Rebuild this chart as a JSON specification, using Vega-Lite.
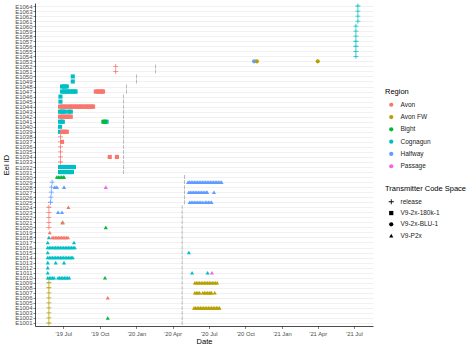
{
"$schema":"https://vega.github.io/schema/vega-lite/v6.json",
"width":338,"height":323,
"autosize":{"type":"none"},
"padding":{"left":35,"top":3,"right":101,"bottom":22},
"config":{"view":{"stroke":null},"font":"Liberation Sans"},
"datasets":{
"expiry":[
{"id":"E1001","date":"2020-04-25"},{"id":"E1002","date":"2020-04-25"},{"id":"E1003","date":"2020-04-25"},{"id":"E1004","date":"2020-04-25"},{"id":"E1005","date":"2020-04-25"},{"id":"E1006","date":"2020-04-25"},{"id":"E1007","date":"2020-04-25"},{"id":"E1008","date":"2020-04-25"},{"id":"E1009","date":"2020-04-25"},{"id":"E1010","date":"2020-04-25"},{"id":"E1011","date":"2020-04-25"},{"id":"E1012","date":"2020-04-25"},{"id":"E1013","date":"2020-04-25"},{"id":"E1014","date":"2020-04-25"},{"id":"E1015","date":"2020-04-25"},{"id":"E1016","date":"2020-04-25"},{"id":"E1017","date":"2020-04-25"},{"id":"E1018","date":"2020-04-25"},{"id":"E1019","date":"2020-04-25"},{"id":"E1020","date":"2020-04-25"},{"id":"E1021","date":"2020-04-25"},{"id":"E1022","date":"2020-04-25"},{"id":"E1023","date":"2020-04-25"},{"id":"E1024","date":"2020-04-25"},
{"id":"E1025","date":"2020-05-01"},{"id":"E1026","date":"2020-05-01"},{"id":"E1027","date":"2020-05-01"},{"id":"E1028","date":"2020-05-01"},{"id":"E1029","date":"2020-05-01"},{"id":"E1030","date":"2020-05-01"},
{"id":"E1031","date":"2019-11-30"},{"id":"E1032","date":"2019-11-30"},{"id":"E1033","date":"2019-11-30"},{"id":"E1034","date":"2019-11-30"},{"id":"E1035","date":"2019-11-30"},{"id":"E1036","date":"2019-11-30"},{"id":"E1037","date":"2019-11-30"},{"id":"E1038","date":"2019-11-30"},{"id":"E1039","date":"2019-11-30"},{"id":"E1040","date":"2019-11-30"},{"id":"E1041","date":"2019-11-30"},{"id":"E1042","date":"2019-11-30"},{"id":"E1043","date":"2019-11-30"},{"id":"E1044","date":"2019-11-30"},{"id":"E1045","date":"2019-11-30"},{"id":"E1046","date":"2019-11-30"},
{"id":"E1047","date":"2019-12-07"},{"id":"E1048","date":"2019-12-07"},
{"id":"E1049","date":"2020-01-01"},{"id":"E1050","date":"2020-01-01"},
{"id":"E1051","date":"2020-02-18"},{"id":"E1052","date":"2020-02-18"}
],
"pts":[
{"id":"E1001","date":"2019-05-26","region":"Avon FW","code":"release"},
{"id":"E1002","date":"2019-05-26","region":"Avon FW","code":"release"},
{"id":"E1003","date":"2019-05-26","region":"Avon FW","code":"release"},
{"id":"E1004","date":"2019-05-26","region":"Avon FW","code":"release"},
{"id":"E1005","date":"2019-05-26","region":"Avon FW","code":"release"},
{"id":"E1006","date":"2019-05-26","region":"Avon FW","code":"release"},
{"id":"E1007","date":"2019-05-26","region":"Avon FW","code":"release"},
{"id":"E1008","date":"2019-05-26","region":"Avon FW","code":"release"},
{"id":"E1009","date":"2019-05-26","region":"Avon FW","code":"release"},
{"id":"E1020","date":"2019-05-26","region":"Avon","code":"release"},
{"id":"E1021","date":"2019-05-26","region":"Avon","code":"release"},
{"id":"E1022","date":"2019-05-26","region":"Avon","code":"release"},
{"id":"E1023","date":"2019-05-26","region":"Avon","code":"release"},
{"id":"E1024","date":"2019-05-26","region":"Avon","code":"release"},
{"id":"E1025","date":"2019-05-30","region":"Halfway","code":"release"},
{"id":"E1026","date":"2019-05-31","region":"Halfway","code":"release"},
{"id":"E1027","date":"2019-06-01","region":"Halfway","code":"release"},
{"id":"E1028","date":"2019-06-02","region":"Halfway","code":"release"},
{"id":"E1029","date":"2019-06-03","region":"Halfway","code":"release"},
{"id":"E1033","date":"2019-06-24","region":"Avon","code":"release"},
{"id":"E1034","date":"2019-06-24","region":"Avon","code":"release"},
{"id":"E1035","date":"2019-06-24","region":"Avon","code":"release"},
{"id":"E1036","date":"2019-06-24","region":"Avon","code":"release"},
{"id":"E1037","date":"2019-06-24","region":"Avon","code":"release"},
{"id":"E1038","date":"2019-06-24","region":"Avon","code":"release"},
{"id":"E1051","date":"2019-11-10","region":"Avon","code":"release"},
{"id":"E1052","date":"2019-11-10","region":"Avon","code":"release"},
{"id":"E1054","date":"2021-07-06","region":"Cognagun","code":"release"},
{"id":"E1055","date":"2021-07-06","region":"Cognagun","code":"release"},
{"id":"E1056","date":"2021-07-06","region":"Cognagun","code":"release"},
{"id":"E1057","date":"2021-07-06","region":"Cognagun","code":"release"},
{"id":"E1058","date":"2021-07-06","region":"Cognagun","code":"release"},
{"id":"E1059","date":"2021-07-06","region":"Cognagun","code":"release"},
{"id":"E1060","date":"2021-07-06","region":"Cognagun","code":"release"},
{"id":"E1061","date":"2021-07-11","region":"Cognagun","code":"release"},
{"id":"E1062","date":"2021-07-11","region":"Cognagun","code":"release"},
{"id":"E1063","date":"2021-07-11","region":"Cognagun","code":"release"},
{"id":"E1064","date":"2021-07-11","region":"Cognagun","code":"release"},

{"id":"E1002","date":"2019-10-21","region":"Bight","code":"V9-P2x"},
{"id":"E1004","date":"2020-05-25","region":"Avon FW","code":"V9-P2x"},
{"id":"E1004","date":"2020-05-29","region":"Avon FW","code":"V9-P2x"},
{"id":"E1004","date":"2020-06-02","region":"Avon FW","code":"V9-P2x"},
{"id":"E1004","date":"2020-06-06","region":"Avon FW","code":"V9-P2x"},
{"id":"E1004","date":"2020-06-10","region":"Avon FW","code":"V9-P2x"},
{"id":"E1004","date":"2020-06-14","region":"Avon FW","code":"V9-P2x"},
{"id":"E1004","date":"2020-06-18","region":"Avon FW","code":"V9-P2x"},
{"id":"E1004","date":"2020-06-22","region":"Avon FW","code":"V9-P2x"},
{"id":"E1004","date":"2020-06-26","region":"Avon FW","code":"V9-P2x"},
{"id":"E1004","date":"2020-06-30","region":"Avon FW","code":"V9-P2x"},
{"id":"E1004","date":"2020-07-04","region":"Avon FW","code":"V9-P2x"},
{"id":"E1004","date":"2020-07-08","region":"Avon FW","code":"V9-P2x"},
{"id":"E1004","date":"2020-07-12","region":"Avon FW","code":"V9-P2x"},
{"id":"E1004","date":"2020-07-16","region":"Avon FW","code":"V9-P2x"},
{"id":"E1004","date":"2020-07-20","region":"Avon FW","code":"V9-P2x"},
{"id":"E1004","date":"2020-07-24","region":"Avon FW","code":"V9-P2x"},
{"id":"E1004","date":"2020-07-28","region":"Avon FW","code":"V9-P2x"},
{"id":"E1006","date":"2019-10-21","region":"Avon","code":"V9-P2x"},
{"id":"E1007","date":"2020-05-27","region":"Avon FW","code":"V9-P2x"},
{"id":"E1007","date":"2020-05-31","region":"Avon FW","code":"V9-P2x"},
{"id":"E1007","date":"2020-06-04","region":"Avon FW","code":"V9-P2x"},
{"id":"E1007","date":"2020-06-08","region":"Avon FW","code":"V9-P2x"},
{"id":"E1007","date":"2020-06-16","region":"Avon FW","code":"V9-P2x"},
{"id":"E1007","date":"2020-06-20","region":"Avon FW","code":"V9-P2x"},
{"id":"E1007","date":"2020-06-24","region":"Avon FW","code":"V9-P2x"},
{"id":"E1007","date":"2020-06-28","region":"Avon FW","code":"V9-P2x"},
{"id":"E1007","date":"2020-07-02","region":"Avon FW","code":"V9-P2x"},
{"id":"E1007","date":"2020-07-06","region":"Avon FW","code":"V9-P2x"},
{"id":"E1007","date":"2020-07-08","region":"Avon FW","code":"V9-P2x"},
{"id":"E1007","date":"2020-07-16","region":"Avon FW","code":"V9-P2x"},
{"id":"E1009","date":"2020-05-27","region":"Avon FW","code":"V9-P2x"},
{"id":"E1009","date":"2020-05-31","region":"Avon FW","code":"V9-P2x"},
{"id":"E1009","date":"2020-06-04","region":"Avon FW","code":"V9-P2x"},
{"id":"E1009","date":"2020-06-08","region":"Avon FW","code":"V9-P2x"},
{"id":"E1009","date":"2020-06-12","region":"Avon FW","code":"V9-P2x"},
{"id":"E1009","date":"2020-06-16","region":"Avon FW","code":"V9-P2x"},
{"id":"E1009","date":"2020-06-20","region":"Avon FW","code":"V9-P2x"},
{"id":"E1009","date":"2020-06-24","region":"Avon FW","code":"V9-P2x"},
{"id":"E1009","date":"2020-06-28","region":"Avon FW","code":"V9-P2x"},
{"id":"E1009","date":"2020-07-02","region":"Avon FW","code":"V9-P2x"},
{"id":"E1009","date":"2020-07-06","region":"Avon FW","code":"V9-P2x"},
{"id":"E1009","date":"2020-07-10","region":"Avon FW","code":"V9-P2x"},
{"id":"E1009","date":"2020-07-14","region":"Avon FW","code":"V9-P2x"},
{"id":"E1009","date":"2020-07-18","region":"Avon FW","code":"V9-P2x"},
{"id":"E1009","date":"2020-07-22","region":"Avon FW","code":"V9-P2x"},
{"id":"E1010","date":"2019-05-23","region":"Cognagun","code":"V9-P2x"},
{"id":"E1010","date":"2019-05-27","region":"Cognagun","code":"V9-P2x"},
{"id":"E1010","date":"2019-05-31","region":"Cognagun","code":"V9-P2x"},
{"id":"E1010","date":"2019-06-04","region":"Cognagun","code":"V9-P2x"},
{"id":"E1010","date":"2019-06-08","region":"Cognagun","code":"V9-P2x"},
{"id":"E1010","date":"2019-06-18","region":"Cognagun","code":"V9-P2x"},
{"id":"E1010","date":"2019-06-22","region":"Cognagun","code":"V9-P2x"},
{"id":"E1010","date":"2019-06-26","region":"Cognagun","code":"V9-P2x"},
{"id":"E1010","date":"2019-06-30","region":"Cognagun","code":"V9-P2x"},
{"id":"E1010","date":"2019-07-04","region":"Cognagun","code":"V9-P2x"},
{"id":"E1010","date":"2019-07-08","region":"Cognagun","code":"V9-P2x"},
{"id":"E1010","date":"2019-07-12","region":"Cognagun","code":"V9-P2x"},
{"id":"E1010","date":"2019-07-16","region":"Cognagun","code":"V9-P2x"},
{"id":"E1010","date":"2019-10-14","region":"Bight","code":"V9-P2x"},
{"id":"E1011","date":"2019-05-23","region":"Cognagun","code":"V9-P2x"},
{"id":"E1011","date":"2020-05-20","region":"Cognagun","code":"V9-P2x"},
{"id":"E1011","date":"2020-06-28","region":"Cognagun","code":"V9-P2x"},
{"id":"E1011","date":"2020-07-09","region":"Passage","code":"V9-P2x"},
{"id":"E1012","date":"2019-05-23","region":"Cognagun","code":"V9-P2x"},
{"id":"E1013","date":"2019-05-23","region":"Cognagun","code":"V9-P2x"},
{"id":"E1013","date":"2019-06-12","region":"Cognagun","code":"V9-P2x"},
{"id":"E1013","date":"2019-07-03","region":"Cognagun","code":"V9-P2x"},
{"id":"E1014","date":"2019-05-23","region":"Cognagun","code":"V9-P2x"},
{"id":"E1014","date":"2019-05-27","region":"Cognagun","code":"V9-P2x"},
{"id":"E1014","date":"2019-05-31","region":"Cognagun","code":"V9-P2x"},
{"id":"E1014","date":"2019-06-04","region":"Cognagun","code":"V9-P2x"},
{"id":"E1014","date":"2019-06-08","region":"Cognagun","code":"V9-P2x"},
{"id":"E1014","date":"2019-06-12","region":"Cognagun","code":"V9-P2x"},
{"id":"E1014","date":"2019-06-16","region":"Cognagun","code":"V9-P2x"},
{"id":"E1014","date":"2019-06-20","region":"Cognagun","code":"V9-P2x"},
{"id":"E1014","date":"2019-06-24","region":"Cognagun","code":"V9-P2x"},
{"id":"E1014","date":"2019-06-28","region":"Cognagun","code":"V9-P2x"},
{"id":"E1014","date":"2019-07-02","region":"Cognagun","code":"V9-P2x"},
{"id":"E1014","date":"2019-07-06","region":"Cognagun","code":"V9-P2x"},
{"id":"E1014","date":"2019-07-10","region":"Cognagun","code":"V9-P2x"},
{"id":"E1014","date":"2019-07-14","region":"Cognagun","code":"V9-P2x"},
{"id":"E1014","date":"2019-07-18","region":"Cognagun","code":"V9-P2x"},
{"id":"E1014","date":"2019-07-22","region":"Cognagun","code":"V9-P2x"},
{"id":"E1014","date":"2019-07-25","region":"Cognagun","code":"V9-P2x"},
{"id":"E1015","date":"2019-05-23","region":"Cognagun","code":"V9-P2x"},
{"id":"E1015","date":"2020-05-12","region":"Cognagun","code":"V9-P2x"},
{"id":"E1016","date":"2019-05-23","region":"Cognagun","code":"V9-P2x"},
{"id":"E1016","date":"2019-05-27","region":"Cognagun","code":"V9-P2x"},
{"id":"E1016","date":"2019-05-31","region":"Cognagun","code":"V9-P2x"},
{"id":"E1016","date":"2019-06-04","region":"Cognagun","code":"V9-P2x"},
{"id":"E1016","date":"2019-06-08","region":"Cognagun","code":"V9-P2x"},
{"id":"E1016","date":"2019-06-12","region":"Cognagun","code":"V9-P2x"},
{"id":"E1016","date":"2019-06-16","region":"Cognagun","code":"V9-P2x"},
{"id":"E1016","date":"2019-06-20","region":"Cognagun","code":"V9-P2x"},
{"id":"E1016","date":"2019-06-24","region":"Cognagun","code":"V9-P2x"},
{"id":"E1016","date":"2019-06-28","region":"Cognagun","code":"V9-P2x"},
{"id":"E1016","date":"2019-07-02","region":"Cognagun","code":"V9-P2x"},
{"id":"E1016","date":"2019-07-06","region":"Cognagun","code":"V9-P2x"},
{"id":"E1016","date":"2019-07-10","region":"Cognagun","code":"V9-P2x"},
{"id":"E1016","date":"2019-07-14","region":"Cognagun","code":"V9-P2x"},
{"id":"E1016","date":"2019-07-18","region":"Cognagun","code":"V9-P2x"},
{"id":"E1016","date":"2019-07-22","region":"Cognagun","code":"V9-P2x"},
{"id":"E1016","date":"2019-07-26","region":"Cognagun","code":"V9-P2x"},
{"id":"E1016","date":"2019-07-30","region":"Cognagun","code":"V9-P2x"},
{"id":"E1017","date":"2019-05-23","region":"Cognagun","code":"V9-P2x"},
{"id":"E1017","date":"2019-07-28","region":"Cognagun","code":"V9-P2x"},
{"id":"E1018","date":"2019-05-26","region":"Cognagun","code":"V9-P2x"},
{"id":"E1018","date":"2019-06-03","region":"Avon","code":"V9-P2x"},
{"id":"E1018","date":"2019-06-07","region":"Avon","code":"V9-P2x"},
{"id":"E1018","date":"2019-06-11","region":"Avon","code":"V9-P2x"},
{"id":"E1018","date":"2019-06-15","region":"Avon","code":"V9-P2x"},
{"id":"E1018","date":"2019-06-19","region":"Avon","code":"V9-P2x"},
{"id":"E1018","date":"2019-06-23","region":"Avon","code":"V9-P2x"},
{"id":"E1018","date":"2019-06-27","region":"Avon","code":"V9-P2x"},
{"id":"E1018","date":"2019-07-01","region":"Avon","code":"V9-P2x"},
{"id":"E1018","date":"2019-07-05","region":"Avon","code":"V9-P2x"},
{"id":"E1018","date":"2019-07-09","region":"Avon","code":"V9-P2x"},
{"id":"E1018","date":"2019-07-13","region":"Avon","code":"V9-P2x"},
{"id":"E1019","date":"2019-05-28","region":"Avon","code":"V9-P2x"},
{"id":"E1020","date":"2019-10-16","region":"Bight","code":"V9-P2x"},
{"id":"E1021","date":"2019-06-29","region":"Bight","code":"V9-P2x"},
{"id":"E1021","date":"2019-06-30","region":"Avon","code":"V9-P2x"},
{"id":"E1023","date":"2019-06-18","region":"Halfway","code":"V9-P2x"},
{"id":"E1023","date":"2019-06-28","region":"Halfway","code":"V9-P2x"},
{"id":"E1024","date":"2019-07-14","region":"Avon","code":"V9-P2x"},
{"id":"E1025","date":"2020-05-14","region":"Halfway","code":"V9-P2x"},
{"id":"E1025","date":"2020-05-18","region":"Halfway","code":"V9-P2x"},
{"id":"E1025","date":"2020-05-22","region":"Halfway","code":"V9-P2x"},
{"id":"E1025","date":"2020-05-26","region":"Halfway","code":"V9-P2x"},
{"id":"E1025","date":"2020-05-30","region":"Halfway","code":"V9-P2x"},
{"id":"E1025","date":"2020-06-03","region":"Halfway","code":"V9-P2x"},
{"id":"E1025","date":"2020-06-07","region":"Halfway","code":"V9-P2x"},
{"id":"E1025","date":"2020-06-11","region":"Halfway","code":"V9-P2x"},
{"id":"E1025","date":"2020-06-16","region":"Halfway","code":"V9-P2x"},
{"id":"E1025","date":"2020-06-22","region":"Halfway","code":"V9-P2x"},
{"id":"E1025","date":"2020-06-26","region":"Halfway","code":"V9-P2x"},
{"id":"E1025","date":"2020-06-30","region":"Halfway","code":"V9-P2x"},
{"id":"E1025","date":"2020-07-04","region":"Halfway","code":"V9-P2x"},
{"id":"E1025","date":"2020-07-08","region":"Halfway","code":"V9-P2x"},
{"id":"E1027","date":"2020-05-12","region":"Halfway","code":"V9-P2x"},
{"id":"E1027","date":"2020-05-16","region":"Halfway","code":"V9-P2x"},
{"id":"E1027","date":"2020-05-20","region":"Halfway","code":"V9-P2x"},
{"id":"E1027","date":"2020-05-24","region":"Halfway","code":"V9-P2x"},
{"id":"E1027","date":"2020-05-28","region":"Halfway","code":"V9-P2x"},
{"id":"E1027","date":"2020-06-01","region":"Halfway","code":"V9-P2x"},
{"id":"E1027","date":"2020-06-05","region":"Halfway","code":"V9-P2x"},
{"id":"E1027","date":"2020-06-09","region":"Halfway","code":"V9-P2x"},
{"id":"E1027","date":"2020-06-13","region":"Halfway","code":"V9-P2x"},
{"id":"E1027","date":"2020-06-17","region":"Halfway","code":"V9-P2x"},
{"id":"E1027","date":"2020-06-21","region":"Halfway","code":"V9-P2x"},
{"id":"E1027","date":"2020-06-25","region":"Halfway","code":"V9-P2x"},
{"id":"E1027","date":"2020-06-27","region":"Halfway","code":"V9-P2x"},
{"id":"E1027","date":"2020-07-14","region":"Halfway","code":"V9-P2x"},
{"id":"E1028","date":"2019-06-10","region":"Halfway","code":"V9-P2x"},
{"id":"E1028","date":"2019-06-15","region":"Halfway","code":"V9-P2x"},
{"id":"E1028","date":"2019-07-03","region":"Halfway","code":"V9-P2x"},
{"id":"E1028","date":"2019-10-16","region":"Passage","code":"V9-P2x"},
{"id":"E1029","date":"2020-05-10","region":"Halfway","code":"V9-P2x"},
{"id":"E1029","date":"2020-05-14","region":"Halfway","code":"V9-P2x"},
{"id":"E1029","date":"2020-05-18","region":"Halfway","code":"V9-P2x"},
{"id":"E1029","date":"2020-05-22","region":"Halfway","code":"V9-P2x"},
{"id":"E1029","date":"2020-05-26","region":"Halfway","code":"V9-P2x"},
{"id":"E1029","date":"2020-05-30","region":"Halfway","code":"V9-P2x"},
{"id":"E1029","date":"2020-06-03","region":"Halfway","code":"V9-P2x"},
{"id":"E1029","date":"2020-06-07","region":"Halfway","code":"V9-P2x"},
{"id":"E1029","date":"2020-06-11","region":"Halfway","code":"V9-P2x"},
{"id":"E1029","date":"2020-06-15","region":"Halfway","code":"V9-P2x"},
{"id":"E1029","date":"2020-06-19","region":"Halfway","code":"V9-P2x"},
{"id":"E1029","date":"2020-06-23","region":"Halfway","code":"V9-P2x"},
{"id":"E1029","date":"2020-06-27","region":"Halfway","code":"V9-P2x"},
{"id":"E1029","date":"2020-07-01","region":"Halfway","code":"V9-P2x"},
{"id":"E1029","date":"2020-07-05","region":"Halfway","code":"V9-P2x"},
{"id":"E1029","date":"2020-07-09","region":"Halfway","code":"V9-P2x"},
{"id":"E1029","date":"2020-07-13","region":"Halfway","code":"V9-P2x"},
{"id":"E1029","date":"2020-07-17","region":"Halfway","code":"V9-P2x"},
{"id":"E1029","date":"2020-07-21","region":"Halfway","code":"V9-P2x"},
{"id":"E1029","date":"2020-07-25","region":"Halfway","code":"V9-P2x"},
{"id":"E1029","date":"2020-07-29","region":"Halfway","code":"V9-P2x"},
{"id":"E1029","date":"2020-08-02","region":"Halfway","code":"V9-P2x"},
{"id":"E1030","date":"2019-06-15","region":"Bight","code":"V9-P2x"},
{"id":"E1030","date":"2019-06-19","region":"Bight","code":"V9-P2x"},
{"id":"E1030","date":"2019-06-23","region":"Bight","code":"V9-P2x"},
{"id":"E1030","date":"2019-06-27","region":"Bight","code":"V9-P2x"},
{"id":"E1030","date":"2019-07-01","region":"Bight","code":"V9-P2x"},
{"id":"E1030","date":"2019-07-03","region":"Bight","code":"V9-P2x"},

{"id":"E1031","date":"2019-06-23","region":"Cognagun","code":"V9-2x-180k-1"},
{"id":"E1031","date":"2019-06-27","region":"Cognagun","code":"V9-2x-180k-1"},
{"id":"E1031","date":"2019-07-01","region":"Cognagun","code":"V9-2x-180k-1"},
{"id":"E1031","date":"2019-07-05","region":"Cognagun","code":"V9-2x-180k-1"},
{"id":"E1031","date":"2019-07-10","region":"Cognagun","code":"V9-2x-180k-1"},
{"id":"E1031","date":"2019-07-14","region":"Cognagun","code":"V9-2x-180k-1"},
{"id":"E1031","date":"2019-07-18","region":"Cognagun","code":"V9-2x-180k-1"},
{"id":"E1031","date":"2019-07-23","region":"Cognagun","code":"V9-2x-180k-1"},
{"id":"E1032","date":"2019-06-23","region":"Cognagun","code":"V9-2x-180k-1"},
{"id":"E1032","date":"2019-06-27","region":"Cognagun","code":"V9-2x-180k-1"},
{"id":"E1032","date":"2019-07-01","region":"Cognagun","code":"V9-2x-180k-1"},
{"id":"E1032","date":"2019-07-05","region":"Cognagun","code":"V9-2x-180k-1"},
{"id":"E1032","date":"2019-07-09","region":"Cognagun","code":"V9-2x-180k-1"},
{"id":"E1032","date":"2019-07-13","region":"Cognagun","code":"V9-2x-180k-1"},
{"id":"E1032","date":"2019-07-17","region":"Cognagun","code":"V9-2x-180k-1"},
{"id":"E1032","date":"2019-07-21","region":"Cognagun","code":"V9-2x-180k-1"},
{"id":"E1032","date":"2019-07-25","region":"Cognagun","code":"V9-2x-180k-1"},
{"id":"E1032","date":"2019-07-28","region":"Cognagun","code":"V9-2x-180k-1"},
{"id":"E1034","date":"2019-10-26","region":"Avon","code":"V9-2x-180k-1"},
{"id":"E1034","date":"2019-11-13","region":"Avon","code":"V9-2x-180k-1"},
{"id":"E1037","date":"2019-06-28","region":"Avon","code":"V9-2x-180k-1"},
{"id":"E1039","date":"2019-06-23","region":"Cognagun","code":"V9-2x-180k-1"},
{"id":"E1039","date":"2019-06-28","region":"Avon","code":"V9-2x-180k-1"},
{"id":"E1039","date":"2019-07-02","region":"Avon","code":"V9-2x-180k-1"},
{"id":"E1039","date":"2019-07-06","region":"Avon","code":"V9-2x-180k-1"},
{"id":"E1039","date":"2019-07-10","region":"Avon","code":"V9-2x-180k-1"},
{"id":"E1040","date":"2019-06-23","region":"Cognagun","code":"V9-2x-180k-1"},
{"id":"E1041","date":"2019-06-23","region":"Cognagun","code":"V9-2x-180k-1"},
{"id":"E1041","date":"2019-06-27","region":"Cognagun","code":"V9-2x-180k-1"},
{"id":"E1041","date":"2019-06-30","region":"Cognagun","code":"V9-2x-180k-1"},
{"id":"E1041","date":"2019-10-18","region":"Cognagun","code":"V9-2x-180k-1"},
{"id":"E1041","date":"2019-10-10","region":"Bight","code":"V9-2x-180k-1"},
{"id":"E1041","date":"2019-10-14","region":"Bight","code":"V9-2x-180k-1"},
{"id":"E1042","date":"2019-06-23","region":"Avon","code":"V9-2x-180k-1"},
{"id":"E1042","date":"2019-06-27","region":"Avon","code":"V9-2x-180k-1"},
{"id":"E1042","date":"2019-07-01","region":"Avon","code":"V9-2x-180k-1"},
{"id":"E1042","date":"2019-07-05","region":"Avon","code":"V9-2x-180k-1"},
{"id":"E1042","date":"2019-07-09","region":"Avon","code":"V9-2x-180k-1"},
{"id":"E1042","date":"2019-07-13","region":"Avon","code":"V9-2x-180k-1"},
{"id":"E1042","date":"2019-07-17","region":"Avon","code":"V9-2x-180k-1"},
{"id":"E1042","date":"2019-07-20","region":"Avon","code":"V9-2x-180k-1"},
{"id":"E1043","date":"2019-06-23","region":"Cognagun","code":"V9-2x-180k-1"},
{"id":"E1043","date":"2019-06-27","region":"Cognagun","code":"V9-2x-180k-1"},
{"id":"E1043","date":"2019-07-01","region":"Cognagun","code":"V9-2x-180k-1"},
{"id":"E1043","date":"2019-07-05","region":"Cognagun","code":"V9-2x-180k-1"},
{"id":"E1043","date":"2019-07-15","region":"Cognagun","code":"V9-2x-180k-1"},
{"id":"E1043","date":"2019-07-20","region":"Cognagun","code":"V9-2x-180k-1"},
{"id":"E1044","date":"2019-06-23","region":"Avon","code":"V9-2x-180k-1"},
{"id":"E1044","date":"2019-06-27","region":"Avon","code":"V9-2x-180k-1"},
{"id":"E1044","date":"2019-07-01","region":"Avon","code":"V9-2x-180k-1"},
{"id":"E1044","date":"2019-07-05","region":"Avon","code":"V9-2x-180k-1"},
{"id":"E1044","date":"2019-07-09","region":"Avon","code":"V9-2x-180k-1"},
{"id":"E1044","date":"2019-07-14","region":"Avon","code":"V9-2x-180k-1"},
{"id":"E1044","date":"2019-07-18","region":"Avon","code":"V9-2x-180k-1"},
{"id":"E1044","date":"2019-07-22","region":"Avon","code":"V9-2x-180k-1"},
{"id":"E1044","date":"2019-07-26","region":"Avon","code":"V9-2x-180k-1"},
{"id":"E1044","date":"2019-07-30","region":"Avon","code":"V9-2x-180k-1"},
{"id":"E1044","date":"2019-08-03","region":"Avon","code":"V9-2x-180k-1"},
{"id":"E1044","date":"2019-08-07","region":"Avon","code":"V9-2x-180k-1"},
{"id":"E1044","date":"2019-08-11","region":"Avon","code":"V9-2x-180k-1"},
{"id":"E1044","date":"2019-08-15","region":"Avon","code":"V9-2x-180k-1"},
{"id":"E1044","date":"2019-08-18","region":"Avon","code":"V9-2x-180k-1"},
{"id":"E1044","date":"2019-08-23","region":"Avon","code":"V9-2x-180k-1"},
{"id":"E1044","date":"2019-08-27","region":"Avon","code":"V9-2x-180k-1"},
{"id":"E1044","date":"2019-08-31","region":"Avon","code":"V9-2x-180k-1"},
{"id":"E1044","date":"2019-09-04","region":"Avon","code":"V9-2x-180k-1"},
{"id":"E1044","date":"2019-09-08","region":"Avon","code":"V9-2x-180k-1"},
{"id":"E1044","date":"2019-09-12","region":"Avon","code":"V9-2x-180k-1"},
{"id":"E1044","date":"2019-09-14","region":"Avon","code":"V9-2x-180k-1"},
{"id":"E1045","date":"2019-06-24","region":"Cognagun","code":"V9-2x-180k-1"},
{"id":"E1046","date":"2019-06-24","region":"Cognagun","code":"V9-2x-180k-1"},
{"id":"E1047","date":"2019-06-28","region":"Cognagun","code":"V9-2x-180k-1"},
{"id":"E1047","date":"2019-07-02","region":"Cognagun","code":"V9-2x-180k-1"},
{"id":"E1047","date":"2019-07-06","region":"Cognagun","code":"V9-2x-180k-1"},
{"id":"E1047","date":"2019-07-10","region":"Cognagun","code":"V9-2x-180k-1"},
{"id":"E1047","date":"2019-07-14","region":"Cognagun","code":"V9-2x-180k-1"},
{"id":"E1047","date":"2019-07-18","region":"Cognagun","code":"V9-2x-180k-1"},
{"id":"E1047","date":"2019-07-22","region":"Cognagun","code":"V9-2x-180k-1"},
{"id":"E1047","date":"2019-07-26","region":"Cognagun","code":"V9-2x-180k-1"},
{"id":"E1047","date":"2019-07-30","region":"Cognagun","code":"V9-2x-180k-1"},
{"id":"E1047","date":"2019-08-01","region":"Cognagun","code":"V9-2x-180k-1"},
{"id":"E1047","date":"2019-09-21","region":"Avon","code":"V9-2x-180k-1"},
{"id":"E1047","date":"2019-09-25","region":"Avon","code":"V9-2x-180k-1"},
{"id":"E1047","date":"2019-09-29","region":"Avon","code":"V9-2x-180k-1"},
{"id":"E1047","date":"2019-10-03","region":"Avon","code":"V9-2x-180k-1"},
{"id":"E1047","date":"2019-10-07","region":"Avon","code":"V9-2x-180k-1"},
{"id":"E1047","date":"2019-10-09","region":"Avon","code":"V9-2x-180k-1"},
{"id":"E1048","date":"2019-06-28","region":"Cognagun","code":"V9-2x-180k-1"},
{"id":"E1048","date":"2019-07-02","region":"Cognagun","code":"V9-2x-180k-1"},
{"id":"E1048","date":"2019-07-06","region":"Cognagun","code":"V9-2x-180k-1"},
{"id":"E1048","date":"2019-07-10","region":"Cognagun","code":"V9-2x-180k-1"},
{"id":"E1049","date":"2019-07-25","region":"Cognagun","code":"V9-2x-180k-1"},
{"id":"E1050","date":"2019-07-25","region":"Cognagun","code":"V9-2x-180k-1"},

{"id":"E1053","date":"2020-10-23","region":"Halfway","code":"V9-2x-BLU-1"},
{"id":"E1053","date":"2020-10-30","region":"Avon FW","code":"V9-2x-BLU-1"},
{"id":"E1053","date":"2021-04-01","region":"Avon FW","code":"V9-2x-BLU-1"}
]
},
"encoding":{
"x":{"field":"date","type":"temporal",
 "scale":{"type":"utc","domain":[{"year":2019,"month":4,"date":21,"utc":true},{"year":2021,"month":8,"date":18,"utc":true}]},
 "axis":{"title":"Date","values":[{"year":2019,"month":7,"date":1,"utc":true},{"year":2019,"month":10,"date":1,"utc":true},{"year":2020,"month":1,"date":1,"utc":true},{"year":2020,"month":4,"date":1,"utc":true},{"year":2020,"month":7,"date":1,"utc":true},{"year":2020,"month":10,"date":1,"utc":true},{"year":2021,"month":1,"date":1,"utc":true},{"year":2021,"month":4,"date":1,"utc":true},{"year":2021,"month":7,"date":1,"utc":true}],
  "labelExpr":"utcFormat(datum.value, \"'%y %b\")","grid":false,"labelFontSize":5.8,"labelColor":"#4d4d4d","tickSize":2.5,"tickColor":"#333","tickWidth":0.6,"domainColor":"#000","domainWidth":0.7,"labelPadding":1.5,"titleFontSize":7.5,"titleFontWeight":"normal","titleColor":"#000","titlePadding":2}},
"y":{"field":"id","type":"nominal",
 "scale":{"type":"point","padding":0.6,"domain":["E1064","E1063","E1062","E1061","E1060","E1059","E1058","E1057","E1056","E1055","E1054","E1053","E1052","E1051","E1050","E1049","E1048","E1047","E1046","E1045","E1044","E1043","E1042","E1041","E1040","E1039","E1038","E1037","E1036","E1035","E1034","E1033","E1032","E1031","E1030","E1029","E1028","E1027","E1026","E1025","E1024","E1023","E1022","E1021","E1020","E1019","E1018","E1017","E1016","E1015","E1014","E1013","E1012","E1011","E1010","E1009","E1008","E1007","E1006","E1005","E1004","E1003","E1002","E1001"]},
 "axis":{"title":"Eel ID","labelFontSize":6,"labelColor":"#4d4d4d","labelOverlap":false,"tickSize":2,"tickColor":"#333","tickWidth":0.6,"domainColor":"#000","domainWidth":0.7,"grid":true,"gridColor":"#e3e3e3","gridWidth":0.5,"labelPadding":1,"titleFontSize":7.5,"titleFontWeight":"normal","titleColor":"#000","titlePadding":4}}
},
"layer":[
{"data":{"name":"expiry"},"mark":{"type":"tick","orient":"vertical","size":4,"thickness":0.7,"color":"#777"}},
{"data":{"name":"pts"},
 "mark":{"type":"point","filled":true,"opacity":1,"size":17},
 "encoding":{
  "color":{"field":"region","type":"nominal","title":"Region",
   "scale":{"domain":["Avon","Avon FW","Bight","Cognagun","Halfway","Passage"],"range":["#F8766D","#B79F00","#00BA38","#00BFC4","#619CFF","#F564E3"]},
   "legend":{"orient":"none","legendX":350,"legendY":85,"titleFontSize":7.5,"titleFontWeight":"normal","titleColor":"#000","titlePadding":6,"labelFontSize":6.5,"labelColor":"#222","symbolSize":18,"symbolType":"circle","rowPadding":5.3,"labelOffset":6,"symbolOffset":3,"padding":0}},
  "shape":{"field":"code","type":"nominal","title":"Transmitter Code Space",
   "scale":{"domain":["release","V9-2x-180k-1","V9-2x-BLU-1","V9-P2x"],"range":["M-1.2,-0.2L1.2,-0.2L1.2,0.2L-1.2,0.2Z M-0.2,-1.2L0.2,-1.2L0.2,1.2L-0.2,1.2Z","square","circle","triangle-up"]},
   "legend":{"orient":"none","legendX":350,"legendY":182,"titleFontSize":7.5,"titleFontWeight":"normal","titleColor":"#000","titlePadding":6,"labelFontSize":6.5,"labelColor":"#222","symbolSize":18,"symbolStrokeWidth":0,"rowPadding":4.3,"labelOffset":6,"symbolOffset":3,"padding":0,
    "encode":{"symbols":{"update":{"fill":{"value":"black"},"stroke":{"value":"transparent"},"size":{"value":18},"strokeWidth":{"value":0}}}}}}
 }}
]
}
